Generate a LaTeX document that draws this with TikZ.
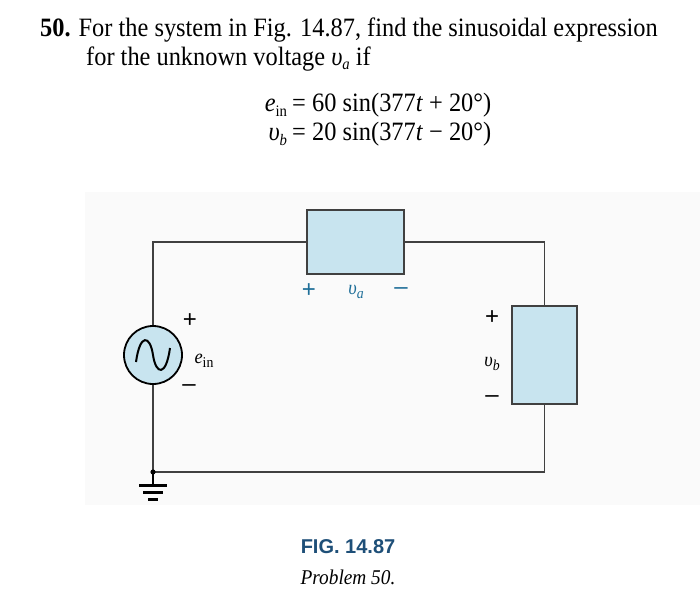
\documentclass[tikz,border=0pt]{standalone}
\usepackage{fontspec}
\setmainfont{Liberation Serif}[FakeStretch=0.92]
\newfontfamily\capfont{Liberation Sans}
\begin{document}
\begin{tikzpicture}[x=1pt,y=-1pt,
  wire/.style={draw=black!75,line width=1.1pt},
  box/.style={draw=black!75,line width=1.1pt,fill=boxc},
  lbl/.style={font=\fontsize{20}{20}\selectfont,inner sep=0pt},
  sgn/.style={font=\capfont\fontsize{24}{24}\selectfont,inner sep=0pt},
  txt/.style={font=\fontsize{26.5}{26.5}\selectfont,inner sep=0pt,anchor=base west}]
\definecolor{boxc}{HTML}{C8E4EF}
\definecolor{lblc}{HTML}{1E6E98}
\definecolor{capc}{HTML}{1E4F78}
\useasboundingbox (0,0) rectangle (700,611);
\fill[white] (0,0) rectangle (700,611);
\fill[black!2] (85,192) rectangle (700,505);
% text
\node[txt] (l1) at (40,36) {\textbf{50.}\hspace{8pt}For the system in Fig. 14.87, find the sinusoidal expression};
\node[txt] (l2) at (86,65) {for the unknown voltage \textit{υ}\raisebox{-4pt}{\fontsize{16}{16}\selectfont\textit{a}} if};
\node[txt,anchor=base east] (e1) at (312,111) {\textit{e}\raisebox{-5pt}{\fontsize{16}{16}\selectfont in}\hspace{5pt}=\hspace{6pt}\strut};
\node[txt] (e1r) at (312,111) {60 sin(377\textit{t} + 20°)};
\node[txt,anchor=base east] (e2) at (312,140) {\textit{υ}\raisebox{-5pt}{\fontsize{16}{16}\selectfont\textit{b}}\hspace{5pt}=\hspace{6pt}\strut};
\node[txt] (e2r) at (312,140) {20 sin(377\textit{t} − 20°)};
% circuit
\node[box,minimum width=97pt,minimum height=64pt,inner sep=0pt] (A) at (355.5,242) {};
\node[box,minimum width=65pt,minimum height=98pt,inner sep=0pt] (B) at (544.5,355) {};
\node[circle,draw=black,line width=1.8pt,fill=boxc,minimum size=58pt,inner sep=0pt] (S) at (153,355) {};
\draw[line width=2pt] (136,362) .. controls (140,333) and (150,335) .. (153,355) .. controls (156,375) and (166,377) .. (170,348);
\coordinate (TL) at (153,242);
\coordinate (TR) at (544.5,242);
\coordinate (BL) at (153,472);
\coordinate (BR) at (544.5,472);
\draw[wire] (S.north) -- (TL) -- (A.west);
\draw[wire] (A.east) -- (TR) -- (B.north);
\draw[wire] (B.south) -- (BR) -- (BL) -- (S.south);
\fill[black] (BL) circle (2.6pt);
\draw[line width=1.4pt] (BL) -- (153,485);
\draw[line width=3pt] (139,485) -- (167,485) (143,492) -- (163,492) (148,499) -- (158,499);
% labels
\node[sgn,text=lblc] (pa) at (309,291) {+};
\node[lbl,text=lblc] (va) at (356,292) {\textit{υ}\raisebox{-4pt}{\fontsize{15}{15}\selectfont\textit{a}}};
\node[sgn,text=lblc] (ma) at (401,291) {–};
\node[sgn] (pe) at (190,321) {+};
\node[lbl] (ee) at (204,361) {\textit{e}\raisebox{-4pt}{\fontsize{15}{15}\selectfont in}};
\node[sgn] (me) at (189,388) {–};
\node[sgn] (pb) at (492,318) {+};
\node[lbl] (vb) at (492,364) {\textit{υ}\raisebox{-4pt}{\fontsize{15}{15}\selectfont\textit{b}}};
\node[sgn] (mb) at (492,399) {–};
\node[inner sep=0pt,text=capc,font=\capfont\bfseries\fontsize{20}{20}\selectfont] (fig) at (348,547) {FIG. 14.87};
\node[inner sep=0pt,font=\itshape\fontsize{21}{21}\selectfont] (prob) at (348,577) {Problem 50.};
\end{tikzpicture}
\end{document}
